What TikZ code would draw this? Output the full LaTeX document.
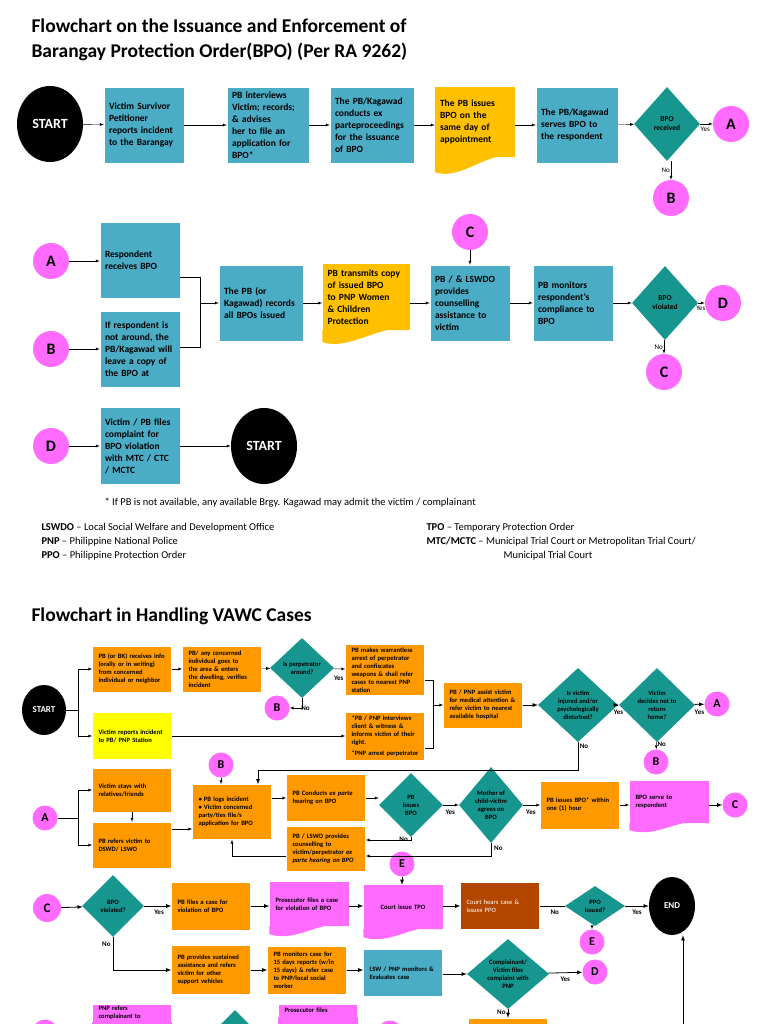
\documentclass[tikz,border=0pt]{standalone}
\usepackage{fontspec}
\setmainfont{Carlito}
\usetikzlibrary{shapes.geometric,positioning,calc}
\definecolor{tealbox}{HTML}{4BACC6}
\definecolor{tealdia}{HTML}{17968F}
\definecolor{pinkc}{HTML}{FF6BFF}
\definecolor{gold}{HTML}{FFC000}
\definecolor{orng}{HTML}{FF9900}
\definecolor{ylw}{HTML}{FFFF00}
\definecolor{brwn}{HTML}{B34700}
\newcommand{\wavebot}[3]{\fill[#2] (#1.south west) -- ++(0,#3) .. controls +(28,9) and +(-28,-8) .. (#1.south east) -- cycle;}
\newcommand{\nohy}{\hyphenpenalty=10000\exhyphenpenalty=10000}
\tikzset{
  arr/.style={-latex,thin},
  lbl/.style={font=\fontsize{7}{8}\selectfont,inner sep=1pt},
  blbl/.style={lbl,font=\bfseries\fontsize{7}{8}\selectfont},
  box/.style={draw=white,thin,fill=tealbox,align=left,inner xsep=5pt,text width=70pt,minimum height=76pt,font=\nohy\bfseries\fontsize{9.5}{12}\selectfont},
  obox/.style={draw=white,thin,fill=orng,align=left,inner xsep=6pt,text width=67pt,minimum height=46pt,font=\nohy\bfseries\fontsize{6.6}{8}\selectfont},
  term/.style={ellipse,fill=black,text=white,font=\bfseries\fontsize{14}{16}\selectfont},
  dia/.style={diamond,fill=tealdia,inner sep=0pt,align=center,font=\bfseries\fontsize{7.5}{9}\selectfont},
  sdia/.style={dia,font=\bfseries\fontsize{6.6}{8}\selectfont},
  con/.style={circle,fill=pinkc,inner sep=0pt,minimum size=36pt,font=\bfseries\fontsize{16}{18}\selectfont},
  scon/.style={con,minimum size=25pt,font=\bfseries\fontsize{12}{14}\selectfont},
}
\begin{document}
\begin{tikzpicture}[x=1pt,y=-1pt]
  \clip (0,0) rectangle (768,1024);
  \fill[white] (0,0) rectangle (768,1024);

  \node[anchor=north west,align=left,font=\bfseries\fontsize{19.5}{25}\selectfont] (title1) at (28,15)
    {Flowchart on the Issuance and Enforcement of\\Barangay Protection Order(BPO) (Per RA 9262)};

  % first row
  \node[term,minimum width=66pt,minimum height=76pt] (s1) at (50,124) {START};
  \node[box] (b1) at (144,125) {Victim Survivor Petitioner reports incident to the Barangay};
  \node[box,text width=72pt] (b2) at (268,125) {PB interviews Victim; records; \& advises her to file an application for BPO*};
  \node[box,text width=74pt] (b3) at (372,125) {The PB/Kagawad conducts ex parteproceedings for the issuance of BPO};
  \node[box,fill=gold,draw=none,minimum height=70pt] (b4) at (475,122) {The PB issues BPO on the same day of appointment};
  \wavebot{b4}{gold}{15}
  \node[box,text width=72pt] (b5) at (577,125) {The PB/Kagawad serves BPO to the respondent};
  \node[dia,minimum width=66pt,minimum height=74pt] (q1) at (667,124) {BPO\\received};
  \node[con] (cA1) at (731,124) {A};
  \node[con] (cB1) at (671,198) {B};
  \draw[arr] (s1) -- (b1);
  \draw[arr] (b1) -- (b2);
  \draw[arr] (b2) -- (b3);
  \draw[arr] (b3) -- (b4.west|-b3);
  \draw[arr] (b4.east|-b5) -- (b5);
  \draw[arr] (b5) -- (q1);
  \draw[arr] (q1) -- (cA1) node[lbl,pos=0.4,below=2pt] {Yes};
  \draw[arr] (q1.south-|cB1) -- (cB1) node[lbl,pos=0.5,left] {No};

  % second row
  \node[con] (cA2) at (51,261) {A};
  \node[box] (r1) at (140,260) {Respondent receives BPO};
  \node[con] (cB2) at (51,349) {B};
  \node[box] (r2) at (140,349) {If respondent is not around, the PB/Kagawad will leave a copy of the BPO at};
  \node[box,text width=74pt] (r3) at (261,303) {The PB (or Kagawad) records all BPOs issued};
  \node[box,fill=gold,draw=none,text width=77pt,minimum height=66pt] (r4) at (366,297) {PB transmits copy of issued BPO to PNP Women \& Children Protection};
  \wavebot{r4}{gold}{12}
  \node[con] (cC1) at (470,232) {C};
  \node[box] (r5) at (470,303) {PB / \& LSWDO provides counselling assistance to victim};
  \node[box] (r6) at (573,303) {PB monitors respondent's compliance to BPO};
  \node[dia,minimum width=66pt,minimum height=74pt] (q2) at (665,303) {BPO\\violated};
  \node[con] (cD1) at (723,303) {D};
  \node[con] (cC2) at (664,372) {C};
  \coordinate (mg) at (200,303);
  \draw[arr] (cA2) -- (r1.west|-cA2);
  \draw[arr] (cB2) -- (r2.west|-cB2);
  \draw[thin] (r1.east|-0,277) -| (mg);
  \draw[thin] (r2.east|-0,347) -| (mg);
  \draw[arr] (mg) -- (r3);
  \draw[arr] (r3) -- (r4.west|-r3);
  \draw[arr] (r4.east|-r5) -- (r5);
  \draw[arr] (cC1) -- (r5);
  \draw[arr] (r5) -- (r6);
  \draw[arr] (r6) -- (q2);
  \draw[arr] (q2) -- (cD1) node[lbl,pos=0.4,below=2pt] {Yes};
  \draw[arr] (q2.south-|cC2) -- (cC2) node[lbl,pos=0.5,left] {No};

  % third row
  \node[con] (cD2) at (51,446) {D};
  \node[box,minimum height=77pt] (t1) at (140,446) {Victim / PB files complaint for BPO violation with MTC / CTC / MCTC};
  \node[term,minimum width=66pt,minimum height=76pt] (s2) at (264,446) {START};
  \draw[arr] (cD2) -- (t1);
  \draw[arr] (t1) -- (s2);

  \node[anchor=west,font=\fontsize{10.5}{12}\selectfont] (note) at (101,503) {* If PB is not available, any available Brgy. Kagawad may admit the victim / complainant};
  \node[anchor=north west,align=left,font=\fontsize{10.5}{14}\selectfont] (leg1) at (38,520)
    {\textbf{LSWDO} -- Local Social Welfare and Development Office\\\textbf{PNP} -- Philippine National Police\\\textbf{PPO} -- Philippine Protection Order};
  \node[anchor=north west,align=left,font=\fontsize{10.5}{14}\selectfont] (leg2) at (423,520)
    {\textbf{TPO} -- Temporary Protection Order\\\textbf{MTC/MCTC} -- Municipal Trial Court or Metropolitan Trial Court/\\\hspace*{77pt}Municipal Trial Court};

  \node[anchor=west,font=\bfseries\fontsize{19.5}{24}\selectfont] (title2) at (28,616) {Flowchart in Handling VAWC Cases};

  % VAWC first rows
  \node[term,minimum width=44pt,minimum height=50pt,font=\bfseries\fontsize{9}{10}\selectfont] (v0) at (44,710) {START};
  \node[obox] (v1) at (132,669) {PB (or BK) receives info (orally or in writing) from concerned individual or neighbor};
  \node[obox] (v2) at (222,669) {PB/ any concerned individual goes to the area \& enters the dwelling, verifies incident};
  \node[sdia,minimum width=64pt,minimum height=60pt] (vq1) at (302,668) {Is perpetrator\\around?};
  \node[scon] (vB1) at (277,708) {B};
  \node[obox] (v3) at (385,670) {PB makes warrantless arrest of perpetrator and confiscates weapons \& shall refer cases to nearest PNP station};
  \node[obox,fill=ylw,minimum height=47pt] (v4) at (132,736) {Victim reports incident to PB/ PNP Station};
  \node[obox,minimum height=47pt] (v5) at (385,736) {*PB / PNP interviews client \& witness \& informs victim of their right.\\[3pt]*PNP arrest perpetrator};
  \node[obox] (v6) at (483,705) {PB / PNP assist victim for medical attention \& refer victim to nearest available hospital};
  \node[sdia,minimum width=80pt,minimum height=74pt] (vq2) at (578,705) {Is victim\\injured and/or\\psychologically\\disturbed?};
  \node[sdia,minimum width=76pt,minimum height=74pt] (vq3) at (657,705) {Victim\\decides not to\\return\\home?};
  \node[scon] (vA) at (717,704) {A};
  \node[scon] (vB2) at (656,762) {B};
  \coordinate (vs) at (78,710);
  \draw[thin] (v0) -- (vs);
  \draw[arr] (vs) |- (v1);
  \draw[arr] (vs) |- (v4);
  \draw[arr] (v1) -- (v2);
  \draw[arr] (v2) -- (vq1);
  \draw[arr] (vq1) -- (v3) node[blbl,pos=0.45,below=6pt] {Yes};
  \draw[arr] (vq1.south) |- (vB1) node[blbl,pos=0.7,right=3pt] {No};
  \draw[arr] (v4) -- (v5);
  \coordinate (vm) at (433,705);
  \draw[thin] (v3.east|-0,680) -| (vm);
  \draw[thin] (v5.east|-0,748) -| (vm);
  \draw[arr] (vm) -- (v6);
  \draw[arr,thick] (v6) -- (vq2);
  \draw[arr,thick] (vq2) -- (vq3) node[blbl,pos=0.45,below=4pt] {Yes};
  \draw[arr,thick] (vq3) -- (vA) node[blbl,pos=0.5,below=4pt] {Yes};
  \draw[arr] (vq3) -- (vB2) node[blbl,pos=0.4,right] {No};

  % BPO rows
  \node[scon] (wA) at (45,818) {A};
  \node[obox,minimum height=44pt] (w1) at (132,790) {Victim stays with relatives/friends};
  \node[obox] (w2) at (132,845) {PB refers victim to DSWD/ LSWO};
  \node[obox,minimum height=55pt] (w3) at (232,812) {\textbullet\ PB logs incident\\\textbullet\ Victim concerned party/ties file/s application for BPO};
  \node[scon] (wB) at (221,765) {B};
  \node[obox,minimum height=47pt] (w4) at (326,798) {PB Conducts \textit{ex parte} hearing on BPO};
  \node[sdia,minimum width=64pt,minimum height=64pt] (wq1) at (411,805) {PB\\issues\\BPO};
  \node[sdia,minimum width=64pt,minimum height=76pt] (wq2) at (491,805) {Mother of\\child-victim\\agrees on\\BPO};
  \node[obox,minimum height=48pt] (w5) at (580,805) {PB issues BPO* within one (1) hour};
  \node[obox,fill=pinkc,draw=none,minimum height=42pt] (w6) at (669,802) {BPO serve to respondent};
  \wavebot{w6}{pinkc}{7}
  \node[scon] (wC) at (735,805) {C};
  \node[obox,minimum height=45pt] (w7) at (326,849) {PB / LSWO provides counselling to victim/perpetrator \textit{ex parte hearing on BPO}};
  \node[scon] (wE) at (402,864) {E};
  \draw[arr,thick] (vq2.south) -- (578,770) -| (w3.north-|258,0);
  \node[blbl] (noL) at (584,746) {No};
  \draw[arr] (wA.east-|78,0) |- (w1);
  \draw[arr] (wA.east-|78,0) |- (w2);
  \draw[thin] (wA) -- (78,818);
  \draw[arr] (w1) -- (w2);
  \draw[arr] (w2.east|-0,829) -- (w3.west|-0,829);
  \draw[arr] (wB) -- (w3.north-|wB);
  \draw[arr] (w3.east|-w4) -- (w4);
  \draw[arr] (w4) -- (wq1.west|-w4) ;
  \draw[arr] (wq1) -- (wq2) node[blbl,pos=0.45,below=4pt] {Yes};
  \draw[arr] (wq2) -- (w5) node[blbl,pos=0.45,below=4pt] {Yes};
  \draw[arr] (w5) -- (w6.west|-w5);
  \draw[arr,thick] (w6.east|-wC) -- (wC);
  \draw[arr] (wq1.south) |- (w7.east|-0,840) node[blbl,pos=0.3,left=2pt] {No};
  \draw[arr] (wq2.south) |- (w7.east|-0,856) node[blbl,pos=0.2,right=2pt] {No};
  \draw[arr] (w7.west|-0,856) -| (w3.south-|232,0);

  % court row
  \node[con,minimum size=28pt,font=\bfseries\fontsize{13}{15}\selectfont] (xC) at (47,908) {C};
  \node[sdia,minimum width=62pt,minimum height=62pt] (xq) at (113,906) {BPO\\violated?};
  \node[obox,minimum height=48pt] (x1) at (211,906) {PB files a case for violation of BPO};
  \node[obox,fill=pinkc,draw=none,minimum height=44pt] (x2) at (309,904) {Prosecutor files a case for violation of BPO};
  \wavebot{x2}{pinkc}{8}
  \node[obox,fill=pinkc,draw=none,minimum height=44pt,align=center] (x3) at (403,907) {Court issue TPO};
  \wavebot{x3}{pinkc}{8}
  \node[obox,fill=brwn,text=white,font=\nohy\fontsize{6.6}{8}\selectfont,minimum height=47pt] (x4) at (500,906) {Court hears case \& issues PPO};
  \node[sdia,minimum width=60pt,minimum height=40pt] (xq2) at (595,906) {PPO\\issued?};
  \node[scon] (xE) at (592,942) {E};
  \node[term,minimum width=46pt,minimum height=58pt,font=\bfseries\fontsize{9}{10}\selectfont] (xEnd) at (672,906) {END};
  \draw[arr,thick] (xC) -- (xq);
  \draw[arr,thick] (xq) -- (x1) node[blbl,pos=0.55,below=3pt] {Yes};
  \draw[arr,thick] (x1) -- (x2.west|-x1);
  \draw[arr,thick] (x2.east|-x1) -- (x3.west|-x1);
  \draw[arr,thick] (wE) -- (x3.north-|wE);
  \draw[arr,thick] (x3.east|-x1) -- (x4.west|-x1);
  \draw[thick] (x4) -- (xq2) node[blbl,pos=0.6,below=3pt] {No};
  \draw[arr,thick] (xq2) -- (xEnd) node[blbl,pos=0.5,below=3pt] {Yes};
  \draw[arr] (xq2.south-|xE) -- (xE);

  % monitoring row
  \node[obox,minimum height=49pt] (y1) at (211,970) {PB provides sustained assistance and refers victim for other support vehicles};
  \node[obox,minimum height=48pt] (y2) at (307,970) {PB monitors case for 15 days reports (w/in 15 days) \& refer case to PNP/local social worker};
  \node[obox,fill=tealbox,minimum height=47pt] (y3) at (403,973) {LSW / PNP monitors \& Evaluates case};
  \node[sdia,minimum width=82pt,minimum height=56pt] (yq) at (508,974) {Complainant/\\Victim files\\complaint with\\PNP};
  \node[scon] (yD) at (595,972) {D};
  \node[obox,minimum height=24pt] (y4) at (508,1030) {};
  \draw[arr,thick] (xq.south) |- (y1.west|-0,970) node[blbl,pos=0.1,left=1pt] {No};
  \draw[arr,thick] (y1) -- (y2);
  \draw[arr,thick] (y2) -- (y3.west|-y2);
  \draw[arr,thick] (y3.east|-yq) -- (yq);
  \draw[arr,thick] (yq) -- (yD) node[blbl,pos=0.5,below=3pt] {Yes};
  \draw[arr,thick] (yq) -- (y4) node[blbl,pos=0.35,left=1pt] {No};
  \draw[arr,thick] (683,1030) coordinate (ye) -- (xEnd.south-|ye);

  % cut-off bottom row
  \node[scon] (zA) at (45,1032) {};
  \node[obox,fill=pinkc,anchor=north,inner ysep=2pt,minimum height=0pt] (z1) at (132,1004) {PNP refers\\complainant to};
  \fill[pinkc] (z1.south west) rectangle ++(80,10);
  \node[dia,minimum width=60pt,minimum height=60pt] (zq) at (235,1040) {};
  \node[obox,fill=pinkc,anchor=north,inner ysep=4pt,minimum height=0pt] (z2) at (318,1004) {Prosecutor files};
  \fill[pinkc] (z2.south west) rectangle ++(80,10);
  \node[scon] (zc) at (390,1033) {};
\end{tikzpicture}
\end{document}
